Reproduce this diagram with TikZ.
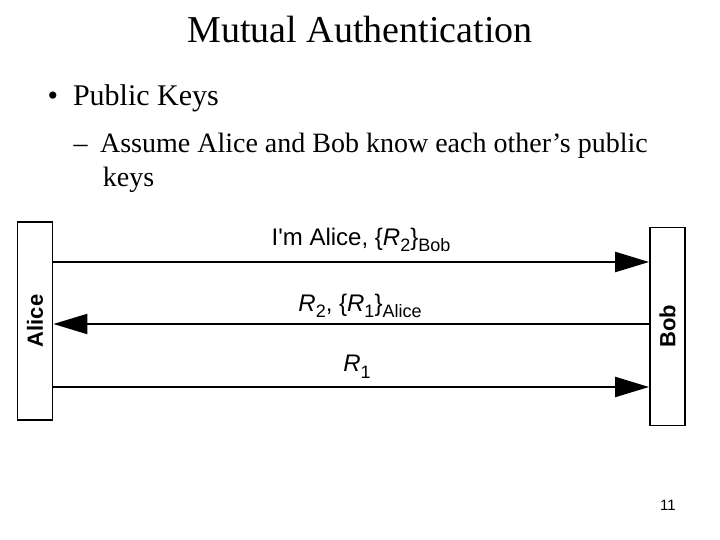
\documentclass[tikz,border=0pt]{standalone}
\usepackage{fontspec}
\setmainfont{Liberation Serif}
\setsansfont{Liberation Sans}
\usetikzlibrary{arrows.meta}
\newcommand{\low}[1]{\raisebox{-0.28em}{\fontsize{18}{19}\selectfont #1}}
\newcommand{\keyed}[2]{\{\textit{#1}\low{#2}\}}
\newcommand{\nonce}[1]{\textit{R}\low{#1}}
\tikzset{
  party/.style={draw, line width=1.8pt, minimum width=35pt, minimum height=198pt, inner sep=0pt},
  msg/.style={line width=2.2pt, -{Triangle[length=34pt,width=20pt]}},
  lbl/.style={font=\sffamily\fontsize{24}{28}\selectfont, inner sep=0pt}
}
\begin{document}
\begin{tikzpicture}[x=1pt,y=-1pt]
  \useasboundingbox (0,0) rectangle (720,540);
  % slide text
  \node (title) at (360,30) {\fontsize{38}{40}\selectfont Mutual Authentication};
  \node[anchor=west, font=\fontsize{30}{34}\selectfont] (bullet) at (44,98) {\textbullet\hspace{0.5em}Public Keys};
  \node[anchor=west, align=left, font=\fontsize{28}{34}\selectfont] (sub) at (70,163) {%
    --\hspace{0.45em}Assume Alice and Bob know each other's public\\
    \hspace{1.05em}keys};
  \node[font=\sffamily\fontsize{15}{17}\selectfont] (page) at (668,505) {11};
  % the two parties
  \node[party] (alice) at (35,321) {};
  \node[party] (bob) at (667.5,326.5) {};
  \node[rotate=90, font=\sffamily\bfseries\fontsize{22}{26}\selectfont] at (alice) {Alice};
  \node[rotate=90, font=\sffamily\bfseries\fontsize{22}{26}\selectfont] at (bob) {Bob};
  % messages
  \draw[msg] (alice.east |- 0,262) -- (bob.west |- 0,262);
  \draw[msg] (bob.west |- 0,324) -- (alice.east |- 0,324);
  \draw[msg] (alice.east |- 0,387) -- (bob.west |- 0,387);
  \node[lbl] at (361,240) {I\textquotesingle m Alice, \keyed{R}{2}\low{Bob}};
  \node[lbl] at (360,306) {\nonce{2}, \keyed{R}{1}\low{Alice}};
  \node[lbl] at (357,367) {\nonce{1}};
\end{tikzpicture}
\end{document}
